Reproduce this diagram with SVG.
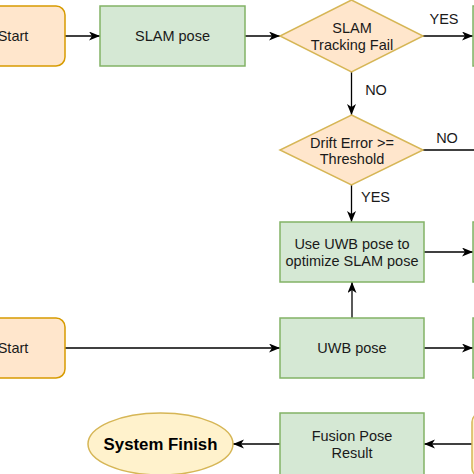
<svg xmlns="http://www.w3.org/2000/svg" width="474" height="474" viewBox="0 0 474 474">
<defs>
<style>
.t{font-family:"Liberation Sans",Arial,sans-serif;font-size:14.5px;fill:#1a1a1a;text-anchor:middle;dominant-baseline:central}
.b{font-weight:bold;font-size:16.8px;fill:#000}
.g{fill:#d5e8d4;stroke:#82b366;stroke-width:1.5}
.o{fill:#ffe6cc;stroke:#d79b00;stroke-width:1.5}
.y{fill:#fff2cc;stroke:#d6b656;stroke-width:1.5}
.c{fill:none;stroke:#000;stroke-width:1.3}
</style>
<marker id="a" markerUnits="userSpaceOnUse" markerWidth="12" markerHeight="10" refX="11" refY="4.5" orient="auto">
<path d="M0,0 L11,4.5 L0,9 L3,4.5 Z" fill="#000"/>
</marker>
</defs>
<rect width="474" height="474" fill="#fff"/>
<g id="connectors">
<path class="c" d="M65,36 H100" marker-end="url(#a)"/>
<path class="c" d="M245,36 H280" marker-end="url(#a)"/>
<path class="c" d="M423,36 H473" marker-end="url(#a)"/>
<path class="c" d="M351.5,72 V115" marker-end="url(#a)"/>
<path class="c" d="M423,150 H474"/>
<path class="c" d="M351.5,185 V222" marker-end="url(#a)"/>
<path class="c" d="M424,252 H473" marker-end="url(#a)"/>
<path class="c" d="M352,318 V282" marker-end="url(#a)"/>
<path class="c" d="M65,348 H280" marker-end="url(#a)"/>
<path class="c" d="M424,348 H473" marker-end="url(#a)"/>
<path class="c" d="M280,444 H233" marker-end="url(#a)"/>
<path class="c" d="M472,444 H424" marker-end="url(#a)"/>
<text class="t" x="444" y="19">YES</text>
<text class="t" x="376" y="90">NO</text>
<text class="t" x="447" y="138">NO</text>
<text class="t" x="375.5" y="197">YES</text>
</g>
<g id="start1">
<rect class="o" x="-40" y="6" width="105" height="60" rx="9"/>
<text class="t" x="13" y="36">Start</text>
</g>
<g id="slampose">
<rect class="g" x="100" y="6" width="145" height="60"/>
<text class="t" x="172.5" y="36">SLAM pose</text>
</g>
<g id="trackfail">
<polygon class="y" points="351.5,0 423,36 351.5,72 280,36" style="fill:#ffe6cc;stroke:#d6b656"/>
<text class="t" x="352" y="28">SLAM</text>
<text class="t" x="352" y="45">Tracking Fail</text>
</g>
<g id="rightbox1">
<rect class="g" x="473" y="6" width="100" height="60"/>
</g>
<g id="drift">
<polygon class="y" points="351.5,115 423,150 351.5,185 280,150" style="fill:#ffe6cc;stroke:#d6b656"/>
<text class="t" x="352" y="143">Drift Error &gt;=</text>
<text class="t" x="352" y="159">Threshold</text>
</g>
<g id="optimize">
<rect class="g" x="280" y="222" width="144" height="60"/>
<text class="t" x="352" y="244">Use UWB pose to</text>
<text class="t" x="352" y="261">optimize SLAM pose</text>
</g>
<g id="rightbox2">
<rect class="g" x="473" y="222" width="100" height="60"/>
</g>
<g id="start2">
<rect class="o" x="-40" y="318" width="105" height="60" rx="9"/>
<text class="t" x="13" y="348">Start</text>
</g>
<g id="uwbpose">
<rect class="g" x="280" y="318" width="144" height="60"/>
<text class="t" x="352" y="348">UWB pose</text>
</g>
<g id="rightbox3">
<rect class="g" x="473" y="318" width="100" height="60"/>
</g>
<g id="fusion">
<rect class="g" x="280" y="413" width="144" height="64"/>
<text class="t" x="352" y="436">Fusion Pose</text>
<text class="t" x="352" y="453">Result</text>
</g>
<g id="finish">
<ellipse class="y" cx="160.5" cy="444" rx="72.5" ry="31"/>
<text class="t b" x="160.5" y="444">System Finish</text>
</g>
<g id="rightbox4">
<rect class="y" x="472" y="413" width="100" height="64" rx="9"/>
</g>
</svg>
